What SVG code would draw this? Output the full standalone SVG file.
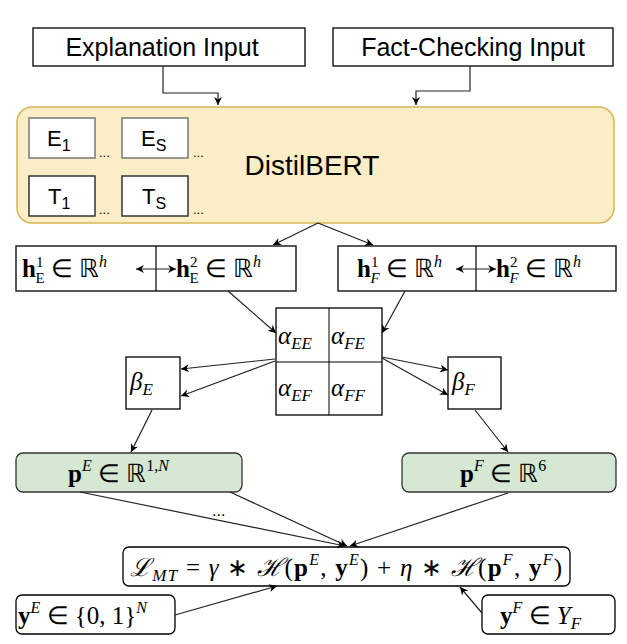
<svg xmlns="http://www.w3.org/2000/svg" width="627" height="644" viewBox="0 0 627 644">
<style>
.b{fill:#fff;stroke:#000;stroke-width:1.3}
.t{font-family:"Liberation Sans",Arial,sans-serif;fill:#000}
.m{font-family:"Liberation Serif","Times New Roman",serif;fill:#000;font-size:25px}
.c{fill:none;stroke:#222;stroke-width:1.2}
.g{fill:#d5e8d4;stroke:#333;stroke-width:1.3}
</style>
<defs>
<marker id="a" markerWidth="10" markerHeight="10" refX="8" refY="4" orient="auto" markerUnits="userSpaceOnUse"><path d="M0,0 L8,4 L0,8 L2.5,4 z" fill="#000"/></marker>
<marker id="s" markerWidth="10" markerHeight="10" refX="0" refY="4" orient="auto" markerUnits="userSpaceOnUse"><path d="M8,0 L0,4 L8,8 L5.5,4 z" fill="#000"/></marker>
</defs>
<g id="expl"><rect class="b" x="33" y="28" width="272" height="38"/><text class="t" x="162" y="56" font-size="25" text-anchor="middle">Explanation Input</text></g>
<g id="fact"><rect class="b" x="333" y="28" width="280" height="38"/><text class="t" x="473" y="56" font-size="25" text-anchor="middle">Fact-Checking Input</text></g>
<g id="bert">
<rect x="17" y="107" width="597" height="116" rx="15" fill="#fbeec6" stroke="#d6b656" stroke-width="1.5"/>
<rect x="29" y="118" width="66" height="40" fill="#fff" stroke="#777" stroke-width="1.5"/>
<rect x="122" y="118" width="66" height="40" fill="#fff" stroke="#777" stroke-width="1.5"/>
<rect x="29" y="176" width="66" height="40" fill="#fff" stroke="#333" stroke-width="1.5"/>
<rect x="122" y="176" width="66" height="40" fill="#fff" stroke="#333" stroke-width="1.5"/>
<text class="t" x="47" y="146" font-size="22">E<tspan font-size="16" dy="5">1</tspan></text>
<text class="t" x="141" y="146" font-size="22">E<tspan font-size="16" dy="5">S</tspan></text>
<text class="t" x="48" y="204" font-size="22">T<tspan font-size="16" dy="5">1</tspan></text>
<text class="t" x="142" y="204" font-size="22">T<tspan font-size="16" dy="5">S</tspan></text>
<text class="t" x="99" y="157" font-size="13">...</text>
<text class="t" x="193" y="157" font-size="13">...</text>
<text class="t" x="99" y="214" font-size="13">...</text>
<text class="t" x="193" y="214" font-size="13">...</text>
<text class="t" x="312" y="175" font-size="28" text-anchor="middle">DistilBERT</text>
</g>
<g id="hE"><rect class="b" x="16" y="246" width="280" height="45"/><line x1="156" y1="246" x2="156" y2="291" stroke="#000" stroke-width="1.2"/>
<text class="m" x="22" y="277"><tspan font-weight="bold">h</tspan><tspan font-size="15" dy="-10">1</tspan><tspan font-size="15" dx="-8" dy="16">E</tspan><tspan dy="-6"> ∈ ℝ</tspan><tspan font-size="16" font-style="italic" dy="-10">h</tspan></text>
<text class="m" x="176" y="277"><tspan font-weight="bold">h</tspan><tspan font-size="15" dy="-10">2</tspan><tspan font-size="15" dx="-8" dy="16">E</tspan><tspan dy="-6"> ∈ ℝ</tspan><tspan font-size="16" font-style="italic" dy="-10">h</tspan></text></g>
<g id="hF"><rect class="b" x="338" y="246" width="278" height="45"/><line x1="476" y1="246" x2="476" y2="291" stroke="#000" stroke-width="1.2"/>
<text class="m" x="357" y="277"><tspan font-weight="bold">h</tspan><tspan font-size="15" dy="-10">1</tspan><tspan font-size="15" font-style="italic" dx="-8" dy="16">F</tspan><tspan dy="-6"> ∈ ℝ</tspan><tspan font-size="16" font-style="italic" dy="-10">h</tspan></text>
<text class="m" x="496" y="277"><tspan font-weight="bold">h</tspan><tspan font-size="15" dy="-10">2</tspan><tspan font-size="15" font-style="italic" dx="-8" dy="16">F</tspan><tspan dy="-6"> ∈ ℝ</tspan><tspan font-size="16" font-style="italic" dy="-10">h</tspan></text></g>
<g id="alpha"><rect class="b" x="276" y="308" width="106" height="107"/><line x1="329" y1="308" x2="329" y2="415" stroke="#000"/><line x1="276" y1="362" x2="382" y2="362" stroke="#000"/>
<text class="m" font-style="italic" x="278" y="344">α<tspan font-size="17" dy="5">EE</tspan></text>
<text class="m" font-style="italic" x="331" y="344">α<tspan font-size="17" dy="5">FE</tspan></text>
<text class="m" font-style="italic" x="278" y="396">α<tspan font-size="17" dy="5">EF</tspan></text>
<text class="m" font-style="italic" x="331" y="396">α<tspan font-size="17" dy="5">FF</tspan></text></g>
<g id="betaE"><rect class="b" x="126" y="357" width="54" height="52"/><text class="m" font-style="italic" x="130" y="390">β<tspan font-size="17" dy="5">E</tspan></text></g>
<g id="betaF"><rect class="b" x="448" y="357" width="53" height="52"/><text class="m" font-style="italic" x="452" y="390">β<tspan font-size="17" dy="5">F</tspan></text></g>
<g id="pE"><rect class="g" x="16" y="453" width="226" height="39" rx="7"/><text class="m" x="68" y="482"><tspan font-weight="bold">p</tspan><tspan font-size="16" font-style="italic" dy="-11">E</tspan><tspan dy="11"> ∈ ℝ</tspan><tspan font-size="16" dy="-11">1,</tspan><tspan font-size="16" font-style="italic">N</tspan></text></g>
<g id="pF"><rect class="g" x="402" y="453" width="214" height="39" rx="7"/><text class="m" x="460" y="482"><tspan font-weight="bold">p</tspan><tspan font-size="16" font-style="italic" dy="-11">F</tspan><tspan dy="11"> ∈ ℝ</tspan><tspan font-size="16" dy="-11">6</tspan></text></g>
<g id="loss"><rect class="b" x="123" y="547" width="447" height="39" rx="6"/><text class="m" x="130" y="576" font-size="25" textLength="432"><tspan font-style="italic">ℒ</tspan><tspan font-size="17" font-style="italic" dy="5">MT</tspan><tspan dy="-5"> = </tspan><tspan font-style="italic">γ</tspan> ∗ <tspan font-style="italic">ℋ</tspan>(<tspan font-weight="bold">p</tspan><tspan font-size="16" font-style="italic" dy="-11">E</tspan><tspan dy="11">, </tspan><tspan font-weight="bold">y</tspan><tspan font-size="16" font-style="italic" dy="-11">E</tspan><tspan dy="11">) + </tspan><tspan font-style="italic">η</tspan> ∗ <tspan font-style="italic">ℋ</tspan>(<tspan font-weight="bold">p</tspan><tspan font-size="16" font-style="italic" dy="-11">F</tspan><tspan dy="11">, </tspan><tspan font-weight="bold">y</tspan><tspan font-size="16" font-style="italic" dy="-11">F</tspan><tspan dy="11">)</tspan></text></g>
<g id="yE"><rect class="b" x="16" y="595" width="159" height="39" rx="6"/><text class="m" x="18" y="624"><tspan font-weight="bold">y</tspan><tspan font-size="16" font-style="italic" dy="-11">E</tspan><tspan dy="11"> ∈ {0, 1}</tspan><tspan font-size="16" font-style="italic" dy="-11">N</tspan></text></g>
<g id="yF"><rect class="b" x="482" y="595" width="133" height="39" rx="6"/><text class="m" x="500" y="624"><tspan font-weight="bold">y</tspan><tspan font-size="16" font-style="italic" dy="-11">F</tspan><tspan dy="11"> ∈ </tspan><tspan font-style="italic">Y</tspan><tspan font-size="17" font-style="italic" dy="5">F</tspan></text></g>
<g id="connectors">
<path class="c" d="M163,66 V93 H218 V105" marker-end="url(#a)"/>
<path class="c" d="M470,66 V91 H416 V105" marker-end="url(#a)"/>
<path class="c" stroke="#555" d="M318,223 L273,245" marker-end="url(#a)"/>
<path class="c" stroke="#555" d="M318,223 L373,245" marker-end="url(#a)"/>
<path class="c" d="M136,269 L176,269" marker-start="url(#s)" marker-end="url(#a)"/>
<path class="c" d="M456,269 L496,269" marker-start="url(#s)" marker-end="url(#a)"/>
<path class="c" d="M228,291 L276,333" marker-end="url(#a)"/>
<path class="c" d="M405,291 L382,333" marker-end="url(#a)"/>
<path class="c" d="M275,359 L181,369" marker-end="url(#a)"/>
<path class="c" stroke="#666" d="M275,361 L181,396" marker-end="url(#a)"/>
<path class="c" d="M382,357 L448,370" marker-end="url(#a)"/>
<path class="c" d="M382,358 L448,395" marker-end="url(#a)"/>
<path class="c" stroke="#444" d="M152,410 L131,452" marker-end="url(#a)"/>
<path class="c" d="M475,410 L508,452" marker-end="url(#a)"/>
<path class="c" d="M80,492 L345,546" marker-end="url(#a)"/>
<path class="c" stroke="#555" d="M230,492 L347,546" marker-end="url(#a)"/>
<path class="c" stroke="#555" d="M508,493 L350,546" marker-end="url(#a)"/>
<path class="c" d="M175,615 L277,586" marker-end="url(#a)"/>
<path class="c" stroke="#555" d="M482,613 L460,587" marker-end="url(#a)"/>
</g>
<text class="t" x="212" y="516" font-size="16">...</text>
</svg>
